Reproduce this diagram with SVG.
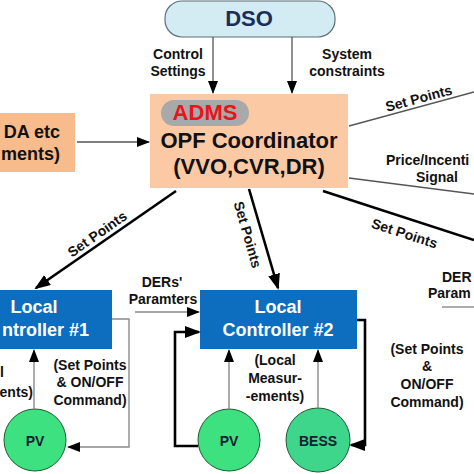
<svg xmlns="http://www.w3.org/2000/svg" width="474" height="474" viewBox="0 0 474 474">
<style>
text{font-family:"Liberation Sans",Arial,sans-serif;font-weight:bold;}
.lbl{font-size:14px;fill:#111;text-anchor:middle;}
.blue{fill:#0d6ebf;}
.wt{fill:#fff;font-size:18px;text-anchor:middle;}
.st{text-anchor:start;}
.en{text-anchor:end;}
.thick{stroke:#000;stroke-width:2.6;fill:none;}
.thin{stroke:#555;stroke-width:1.3;fill:none;}
.gray{stroke:#8a8a8a;stroke-width:1.4;fill:none;}
.pv{fill:#3de17f;stroke:#1f5a34;stroke-width:1;}
.bess{fill:#3dd68a;stroke:#1f5a34;stroke-width:1;}
.ct{font-size:14px;fill:#102030;text-anchor:middle;}
</style>
<defs>
<marker id="ah" viewBox="0 0 16 12" markerWidth="16" markerHeight="12" refX="14" refY="6" orient="auto" markerUnits="userSpaceOnUse"><path d="M0,0 L16,6 L0,12 z" fill="#000"/></marker>
<marker id="as" viewBox="0 0 13 10" markerWidth="13" markerHeight="10" refX="12" refY="5" orient="auto" markerUnits="userSpaceOnUse"><path d="M0,0 L13,5 L0,10 z" fill="#000"/></marker>
</defs>

<g id="dso">
<rect x="165" y="1" width="170" height="36" rx="17" fill="#d3ebf2" stroke="#5b6f78" stroke-width="1.2"/>
<text x="249" y="26" font-size="22" fill="#1b2d5a" text-anchor="middle">DSO</text>
</g>

<g id="opf">
<rect x="150" y="94" width="198" height="94" fill="#fbc9a3"/>
<rect x="161" y="100" width="88" height="26" rx="13" fill="#a9a9a9"/>
<text x="205" y="120" font-size="22" fill="#e8141c" text-anchor="middle">ADMS</text>
<text x="249" y="148" font-size="22" fill="#111" text-anchor="middle">OPF Coordinator</text>
<text x="249" y="174" font-size="22" fill="#111" text-anchor="middle">(VVO,CVR,DR)</text>
</g>

<g id="scada">
<rect x="-10" y="113" width="85" height="59" fill="#f7bb8c"/>
<text x="60" y="138" font-size="18" fill="#111" text-anchor="end">DA etc</text>
<text x="60" y="160" font-size="18" fill="#111" text-anchor="end">ments)</text>
</g>

<g id="lc1">
<rect x="-45" y="290" width="157" height="59" class="blue"/>
<text x="34" y="313" class="wt">Local</text>
<text x="2" y="336" class="wt st">ntroller #1</text>
</g>

<g id="lc2">
<rect x="200" y="290" width="157" height="59" class="blue"/>
<text x="278" y="313" class="wt">Local</text>
<text x="278" y="336" class="wt">Controller #2</text>
</g>

<g id="pv1">
<circle cx="35" cy="440" r="31" class="pv"/>
<text x="35" y="446" class="ct">PV</text>
</g>
<g id="pv2">
<circle cx="229" cy="440" r="31" class="pv"/>
<text x="229" y="446" class="ct">PV</text>
</g>
<g id="bess">
<circle cx="318" cy="440" r="32" class="bess"/>
<text x="318" y="446" class="ct">BESS</text>
</g>

<g id="connectors">
<line x1="213" y1="37" x2="213" y2="93" class="thin" marker-end="url(#as)"/>
<line x1="292" y1="37" x2="292" y2="93" class="thin" marker-end="url(#as)"/>
<line x1="77" y1="142" x2="149" y2="142" class="thin" marker-end="url(#as)"/>
<line x1="349" y1="126" x2="474" y2="92" class="thin"/>
<line x1="349" y1="178" x2="474" y2="194" class="thin"/>
<line x1="323" y1="191" x2="474" y2="240" class="thick"/>
<line x1="176" y1="191" x2="36" y2="288" class="thick" marker-end="url(#ah)"/>
<line x1="249" y1="189" x2="278" y2="288" class="thick" marker-end="url(#ah)"/>
<line x1="135" y1="312" x2="199" y2="312" class="gray" marker-end="url(#as)"/>
<line x1="442" y1="307" x2="474" y2="307" class="gray"/>
<line x1="34" y1="409" x2="34" y2="350" class="gray" marker-end="url(#as)"/>
<line x1="229" y1="409" x2="229" y2="350" class="gray" marker-end="url(#as)"/>
<line x1="318" y1="408" x2="318" y2="350" class="gray" marker-end="url(#as)"/>
<polyline points="112,319 129,319 129,447 68,447" class="gray" marker-end="url(#as)"/>
<polyline points="198,446 175,446 175,332 199,332" class="thick" marker-end="url(#ah)"/>
<polyline points="357,320 365,320 365,445 351,445" class="thick" marker-end="url(#ah)"/>
</g>

<g id="labels">
<text x="178" y="59" class="lbl">Control</text>
<text x="178" y="76" class="lbl">Settings</text>
<text x="347" y="59" class="lbl">System</text>
<text x="347" y="76" class="lbl">constraints</text>
<text class="lbl" transform="translate(420,103) rotate(-15)">Set Points</text>
<text x="386" y="165" class="lbl st">Price/Incenti</text>
<text x="437" y="182" class="lbl">Signal</text>
<text class="lbl" transform="translate(403,238) rotate(18)">Set Points</text>
<text class="lbl" transform="translate(100,238) rotate(-35)">Set Points</text>
<text class="lbl" transform="translate(243,236) rotate(74)">Set Points</text>
<text x="162" y="287" class="lbl">DERs'</text>
<text x="163" y="304" class="lbl">Paramters</text>
<text x="442" y="282" class="lbl st">DER</text>
<text x="428" y="298" class="lbl st">Param</text>
<text x="4" y="377" class="lbl en">l</text>
<text x="33" y="397" class="lbl en">ents)</text>
<text x="90" y="370" class="lbl">(Set Points</text>
<text x="90" y="387" class="lbl">&amp; ON/OFF</text>
<text x="90" y="405" class="lbl">Command)</text>
<text x="275" y="365" class="lbl">(Local</text>
<text x="275" y="383" class="lbl">Measur-</text>
<text x="275" y="401" class="lbl">-ements)</text>
<text x="427" y="354" class="lbl">(Set Points</text>
<text x="427" y="371" class="lbl">&amp;</text>
<text x="427" y="389" class="lbl">ON/OFF</text>
<text x="427" y="407" class="lbl">Command)</text>
</g>
</svg>
